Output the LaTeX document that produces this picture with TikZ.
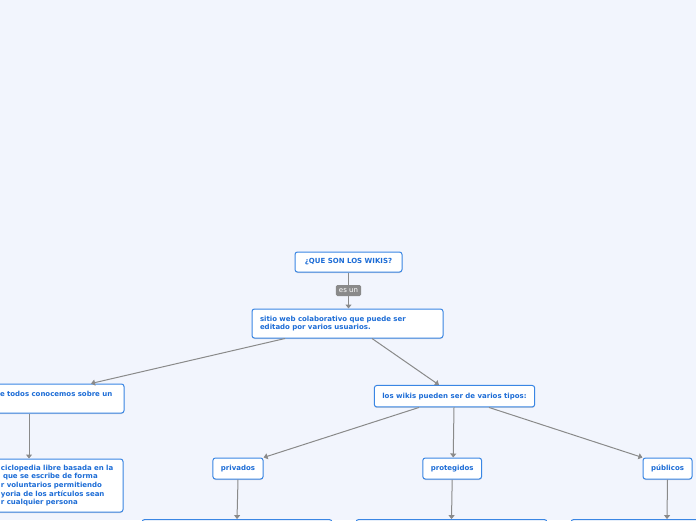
\documentclass[tikz,border=0pt]{standalone}
\usepackage{fontspec}
\setmainfont{DejaVu Sans}
\usetikzlibrary{arrows.meta, positioning, shadows}
\definecolor{colFondo}{RGB}{242, 245, 253}
\definecolor{colBorde}{RGB}{58, 134, 228}
\definecolor{colTexto}{RGB}{28, 108, 214}
\definecolor{colLinea}{RGB}{138, 138, 138}

\begin{document}
\begin{tikzpicture}[x=1pt, y=-1pt,
    every node/.style={font=\fontsize{7}{8.7}\selectfont\bfseries},
    caja/.style={draw=colBorde, line width=1pt, fill=white, rounded corners=2.5pt,
        text=colTexto, inner xsep=8pt, inner ysep=0pt,
        drop shadow={shadow xshift=0pt, shadow yshift=-1pt, opacity=0.25, fill=black!60}},
    flecha/.style={draw=colLinea, line width=1pt, -{Triangle[length=4pt, width=6pt]}},
    etiqueta/.style={fill=colLinea, text=white, font=\fontsize{7}{8}\selectfont,
        inner xsep=3pt, inner ysep=2pt, minimum height=11pt, rounded corners=1.5pt}]
    % fondo
    \fill[colFondo] (0, 0) rectangle (696, 520);
    \clip (0, 0) rectangle (696, 520);

    % pregunta y definicion
    \node[caja, minimum width=107pt, minimum height=20pt] (wikis) at (348.5, 262) {¿QUE SON LOS WIKIS?};
    \node[caja, text width=175pt, align=left, minimum height=29pt] (sitio) at (347.5, 323.5)
        {sitio web colaborativo que puede ser\\editado por varios usuarios.};

    % rama izquierda
    \node[caja, text width=116pt, align=left, minimum height=29pt] (conocemos) at (58, 398.5)
        {e todos conocemos sobre un\\\mbox{}};
    \node[caja, text width=114pt, align=left, minimum height=53pt] (enciclo) at (58, 485.5)
        {ciclopedia libre basada en la\\\hspace*{2pt}que se escribe de forma\\r voluntarios permitiendo\\yoria de los artículos sean\\r cualquier persona};

    % tipos de wikis
    \node[caja, minimum width=159pt, minimum height=21.5pt] (loswikis) at (454.5, 396.2) {los wikis pueden ser de varios tipos:};
    \node[caja, minimum width=50pt, minimum height=21pt] (privados) at (238, 468.5) {privados};
    \node[caja, minimum width=57.5pt, minimum height=21pt] (protegidos) at (452.2, 468.5) {protegidos};
    \node[caja, minimum width=49pt, minimum height=21pt] (publicos) at (667.5, 468.5) {públicos};

    % cajas de abajo (cortadas)
    \node[caja, minimum width=190pt, minimum height=30pt] (caja1) at (237, 534.6) {};
    \node[caja, minimum width=191pt, minimum height=30pt] (caja2) at (451.5, 534.6) {};
    \node[caja, minimum width=192pt, minimum height=30pt] (caja3) at (667, 534.6) {};

    % conectores
    \draw[flecha] (wikis.south) -- node[etiqueta] {es un} (wikis.south |- sitio.north);
    \draw[flecha] ([xshift=-62.5pt]sitio.south) -- ([xshift=33pt]conocemos.north);
    \draw[flecha] ([xshift=24.5pt]sitio.south) -- ([xshift=-15.5pt]loswikis.north);
    \draw[flecha] ([xshift=-29pt]conocemos.south) -- ([xshift=-29pt]enciclo.north);
    \draw[flecha] ([xshift=-35.5pt]loswikis.south) -- (privados.north east);
    \draw[flecha] ([xshift=-0.5pt]loswikis.south) -- ([xshift=1pt]protegidos.north);
    \draw[flecha] ([xshift=34.5pt]loswikis.south) -- (publicos.north west);
    \draw[flecha] (privados.south) -- (caja1.north);
    \draw[flecha] (protegidos.south) -- (caja2.north);
    \draw[flecha] (publicos.south) -- (caja3.north);
\end{tikzpicture}
\end{document}
